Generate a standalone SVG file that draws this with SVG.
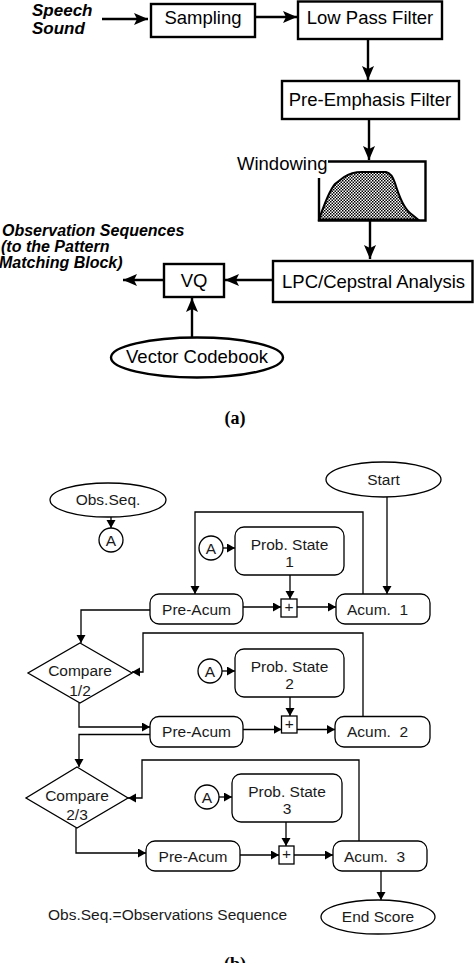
<svg xmlns="http://www.w3.org/2000/svg" width="474" height="963" viewBox="0 0 474 963">
<style>
.tb{fill:#fff;stroke:#000;stroke-width:2.4}
.tl{fill:none;stroke:#000;stroke-width:2.4}
.tt{font-family:"Liberation Sans",Arial,sans-serif;font-size:18.5px;fill:#000}
.ti{font-family:"Liberation Sans",Arial,sans-serif;font-weight:bold;font-style:italic;fill:#000}
.bb{fill:#fff;stroke:#000;stroke-width:1.3}
.bl{fill:none;stroke:#000;stroke-width:1.3}
.bt{font-family:"Liberation Sans",Arial,sans-serif;font-size:15.5px;fill:#1a1a1a}
.cap{font-family:"Liberation Serif","Times New Roman",serif;font-weight:bold;font-size:18px;fill:#000}
</style>
<defs>
<marker id="ah" markerUnits="userSpaceOnUse" markerWidth="15" markerHeight="12" refX="14" refY="6" orient="auto">
<path d="M0,0 L14,6 L0,12 L3,6 z" fill="#000"/>
</marker>
<marker id="bh" markerUnits="userSpaceOnUse" markerWidth="9" markerHeight="10" refX="8" refY="4.5" orient="auto">
<path d="M0,0 L8,4.5 L0,9 z" fill="#000"/>
</marker>
<pattern id="dots" width="3" height="3" patternUnits="userSpaceOnUse">
<rect width="3" height="3" fill="#fff"/>
<rect width="1.5" height="1.5" fill="#000"/>
<rect x="1.5" y="1.5" width="1.5" height="1.5" fill="#000"/>
</pattern>
</defs>

<!-- (a) nodes -->
<g id="speech-sound">
<text class="ti" font-size="17" x="32" y="15.5">Speech</text>
<text class="ti" font-size="17" x="32" y="34">Sound</text>
</g>
<g id="sampling">
<rect class="tb" x="151" y="4" width="104" height="33"/>
<text class="tt" x="203" y="24" text-anchor="middle">Sampling</text>
</g>
<g id="low-pass">
<rect class="tb" x="298" y="1.5" width="144" height="37.5"/>
<text class="tt" x="370" y="24" text-anchor="middle">Low Pass Filter</text>
</g>
<g id="pre-emphasis">
<rect class="tb" x="282" y="81" width="177" height="38"/>
<text class="tt" x="370" y="106" text-anchor="middle">Pre-Emphasis Filter</text>
</g>
<g id="windowing">
<text class="tt" x="237" y="170">Windowing</text>
<path class="tl" d="M328,161.5 H425.5 V220.5 H319 V178"/>
<path d="M319,219.5 C324,205 329,191 335,184 L344,177 C350,173 355,172 362,172 L386,172 C391,173 393,177 395,183 C399,196 404,208 410,213 L418,219.5 Z" fill="url(#dots)" stroke="#000" stroke-width="2"/>
</g>
<g id="lpc">
<rect class="tb" x="273" y="261" width="199.5" height="41"/>
<text class="tt" x="282" y="288">LPC/Cepstral Analysis</text>
</g>
<g id="vq">
<rect class="tb" x="164" y="264" width="60" height="33"/>
<text class="tt" x="194" y="287" text-anchor="middle">VQ</text>
</g>
<g id="obs-seq-out">
<text class="ti" font-size="16" x="2" y="236">Observation Sequences</text>
<text class="ti" font-size="16" x="1" y="252">(to the Pattern</text>
<text class="ti" font-size="16" x="-1" y="268">Matching Block)</text>
</g>
<g id="codebook">
<ellipse class="tb" cx="197" cy="357.5" rx="86" ry="20"/>
<text class="tt" x="197" y="363" text-anchor="middle">Vector Codebook</text>
</g>
<text class="cap" x="235" y="424" text-anchor="middle">(a)</text>

<!-- (a) connectors -->
<g id="connectors-a" class="tl">
<line x1="102" y1="19" x2="148" y2="19" marker-end="url(#ah)"/>
<line x1="255" y1="17" x2="297" y2="17" marker-end="url(#ah)"/>
<line x1="368" y1="39" x2="368" y2="80" marker-end="url(#ah)"/>
<line x1="369" y1="119" x2="369" y2="160" marker-end="url(#ah)"/>
<line x1="370" y1="221" x2="370" y2="259" marker-end="url(#ah)"/>
<line x1="273" y1="280" x2="225" y2="280" marker-end="url(#ah)"/>
<line x1="164" y1="280" x2="123" y2="280" marker-end="url(#ah)"/>
<line x1="192" y1="337" x2="192" y2="298" marker-end="url(#ah)"/>
</g>

<!-- (b) nodes -->
<g id="obs-seq">
<ellipse class="bb" cx="108" cy="500" rx="58" ry="17"/>
<text class="bt" x="108" y="505" text-anchor="middle">Obs.Seq.</text>
</g>
<g id="a0">
<circle class="bb" cx="111" cy="540" r="12"/>
<text class="bt" x="111" y="546" text-anchor="middle">A</text>
</g>
<g id="start">
<ellipse class="bb" cx="383.5" cy="479.5" rx="57.5" ry="17.5"/>
<text class="bt" x="383.5" y="485" text-anchor="middle">Start</text>
</g>
<g id="prob1">
<rect class="bb" x="235" y="527" width="109" height="48" rx="9"/>
<text class="bt" x="289.5" y="550" text-anchor="middle">Prob. State</text>
<text class="bt" x="289.5" y="567" text-anchor="middle">1</text>
</g>
<g id="a1">
<circle class="bb" cx="211" cy="548" r="12"/>
<text class="bt" x="211" y="554" text-anchor="middle">A</text>
</g>
<g id="plus1">
<rect class="bb" x="281" y="599" width="16" height="18"/>
<text class="bt" font-size="11" x="289" y="612" text-anchor="middle">+</text>
</g>
<g id="preacum1">
<rect class="bb" x="150" y="594" width="93" height="30" rx="9"/>
<text class="bt" x="196.5" y="614.5" text-anchor="middle">Pre-Acum</text>
</g>
<g id="acum1">
<rect class="bb" x="336" y="594" width="94" height="30" rx="9"/>
<text class="bt" x="347" y="614.5">Acum.&#160; 1</text>
</g>
<g id="compare12">
<polygon class="bb" points="80,643 132,673 80,703 28,673"/>
<text class="bt" x="80" y="676" text-anchor="middle">Compare</text>
<text class="bt" x="80" y="696" text-anchor="middle">1/2</text>
</g>
<g id="prob2">
<rect class="bb" x="235" y="649" width="109" height="48" rx="9"/>
<text class="bt" x="289.5" y="672" text-anchor="middle">Prob. State</text>
<text class="bt" x="289.5" y="689" text-anchor="middle">2</text>
</g>
<g id="a2">
<circle class="bb" cx="210" cy="671" r="12"/>
<text class="bt" x="210" y="677" text-anchor="middle">A</text>
</g>
<g id="plus2">
<rect class="bb" x="281.5" y="716" width="15.5" height="17"/>
<text class="bt" font-size="11" x="289.2" y="728.5" text-anchor="middle">+</text>
</g>
<g id="preacum2">
<rect class="bb" x="150" y="716.5" width="93" height="30.5" rx="9"/>
<text class="bt" x="196.5" y="737" text-anchor="middle">Pre-Acum</text>
</g>
<g id="acum2">
<rect class="bb" x="335" y="716.5" width="95" height="30.5" rx="9"/>
<text class="bt" x="347" y="737">Acum.&#160; 2</text>
</g>
<g id="compare23">
<polygon class="bb" points="77,767 128,798 77,828 26,798"/>
<text class="bt" x="77" y="801" text-anchor="middle">Compare</text>
<text class="bt" x="77" y="820" text-anchor="middle">2/3</text>
</g>
<g id="prob3">
<rect class="bb" x="232" y="774" width="110" height="48" rx="9"/>
<text class="bt" x="287" y="797" text-anchor="middle">Prob. State</text>
<text class="bt" x="287" y="814" text-anchor="middle">3</text>
</g>
<g id="a3">
<circle class="bb" cx="207" cy="797" r="12"/>
<text class="bt" x="207" y="803" text-anchor="middle">A</text>
</g>
<g id="plus3">
<rect class="bb" x="279" y="846" width="15" height="18"/>
<text class="bt" font-size="11" x="286.5" y="859" text-anchor="middle">+</text>
</g>
<g id="preacum3">
<rect class="bb" x="146" y="841" width="94" height="30" rx="9"/>
<text class="bt" x="193" y="862" text-anchor="middle">Pre-Acum</text>
</g>
<g id="acum3">
<rect class="bb" x="333" y="841" width="94" height="30" rx="9"/>
<text class="bt" x="344" y="862">Acum.&#160; 3</text>
</g>
<g id="end-score">
<ellipse class="bb" cx="378" cy="917" rx="57" ry="17"/>
<text class="bt" x="378" y="922" text-anchor="middle">End Score</text>
</g>
<text id="legend" class="bt" x="48" y="920">Obs.Seq.=Observations Sequence</text>
<text class="cap" x="235" y="970" text-anchor="middle">(b)</text>

<!-- (b) connectors -->
<g id="connectors-b" class="bl">
<line x1="111" y1="517" x2="111" y2="528" marker-end="url(#bh)"/>
<line x1="387" y1="497" x2="387" y2="594" marker-end="url(#bh)"/>
<polyline points="363,594 363,512 195,512 195,594" marker-end="url(#bh)"/>
<line x1="223" y1="548" x2="235" y2="548" marker-end="url(#bh)"/>
<line x1="290" y1="575" x2="290" y2="599" marker-end="url(#bh)"/>
<line x1="243" y1="607" x2="281" y2="607" marker-end="url(#bh)"/>
<line x1="297" y1="607" x2="336" y2="607" marker-end="url(#bh)"/>
<polyline points="150,610 81,610 81,643" marker-end="url(#bh)"/>
<polyline points="363,716.5 363,633 143,633 143,672 132,672" marker-end="url(#bh)"/>
<line x1="222" y1="671" x2="235" y2="671" marker-end="url(#bh)"/>
<line x1="290" y1="697" x2="290" y2="716" marker-end="url(#bh)"/>
<polyline points="79,703 79,727 150,727" marker-end="url(#bh)"/>
<polyline points="150,734.5 79,734.5 79,767" marker-end="url(#bh)"/>
<line x1="243" y1="729.5" x2="281.5" y2="729.5" marker-end="url(#bh)"/>
<line x1="297" y1="729.5" x2="335" y2="729.5" marker-end="url(#bh)"/>
<polyline points="359,841 359,760 142,760 142,798 128,798" marker-end="url(#bh)"/>
<line x1="219" y1="797" x2="232" y2="797" marker-end="url(#bh)"/>
<line x1="286" y1="822" x2="286" y2="846" marker-end="url(#bh)"/>
<polyline points="76,828 76,853 146,853" marker-end="url(#bh)"/>
<line x1="240" y1="855" x2="279" y2="855" marker-end="url(#bh)"/>
<line x1="294" y1="855" x2="333" y2="855" marker-end="url(#bh)"/>
<line x1="381" y1="871" x2="381" y2="900" marker-end="url(#bh)"/>
</g>
</svg>
